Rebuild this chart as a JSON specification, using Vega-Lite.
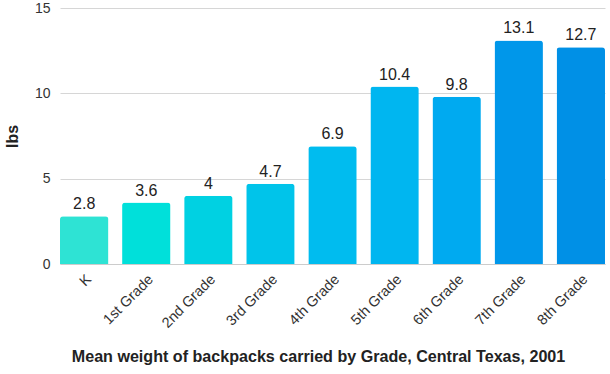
{
  "$schema": "https://vega.github.io/schema/vega-lite/v6.json",
  "width": 610,
  "height": 374,
  "autosize": {"type": "fit", "contains": "padding"},
  "padding": {"left": 4, "right": 4, "top": 1, "bottom": 8},
  "background": "white",
  "title": {"text": "Mean weight of backpacks carried by Grade, Central Texas, 2001", "orient": "bottom", "font": "Liberation Sans", "fontSize": 16.1, "fontWeight": "bold", "color": "#222", "offset": 19, "dx": -14},
  "data": {"values": [
    {"grade": "K", "lbs": 2.8},
    {"grade": "1st Grade", "lbs": 3.6},
    {"grade": "2nd Grade", "lbs": 4},
    {"grade": "3rd Grade", "lbs": 4.7},
    {"grade": "4th Grade", "lbs": 6.9},
    {"grade": "5th Grade", "lbs": 10.4},
    {"grade": "6th Grade", "lbs": 9.8},
    {"grade": "7th Grade", "lbs": 13.1},
    {"grade": "8th Grade", "lbs": 12.7}
  ]},
  "config": {"view": {"stroke": null}, "font": "Liberation Sans"},
  "encoding": {
    "x": {"field": "grade", "type": "nominal", "sort": null,
      "scale": {"paddingInner": 0.22, "paddingOuter": 0.0},
      "axis": {"title": null, "labelAngle": -45, "labelFontSize": 14.5, "labelColor": "#333", "labelFont": "Liberation Sans", "ticks": false, "domainColor": "#ccc", "labelPadding": 8}},
    "y": {"field": "lbs", "type": "quantitative",
      "scale": {"domain": [0, 15]},
      "axis": {"title": "lbs", "titleFontSize": 16, "titleFontWeight": "bold", "titleColor": "#222", "values": [0, 5, 10, 15], "domain": false, "ticks": false, "labelFontSize": 14, "labelColor": "#333", "gridColor": "#d6d6d6", "labelPadding": 10, "titlePadding": 14}}
  },
  "layer": [
    {"mark": {"type": "bar", "cornerRadiusTopLeft": 3, "cornerRadiusTopRight": 3},
     "encoding": {"color": {"field": "grade", "type": "nominal", "sort": null, "legend": null,
       "scale": {"domain": ["K", "1st Grade", "2nd Grade", "3rd Grade", "4th Grade", "5th Grade", "6th Grade", "7th Grade", "8th Grade"],
         "range": ["#2ee3d4", "#00e0da", "#00d1e2", "#00c4ea", "#00bcef", "#00b6f0", "#00aaf0", "#0097ea", "#0090e6"]}}}},
    {"mark": {"type": "text", "dy": -12, "fontSize": 16, "color": "#222", "font": "Liberation Sans"},
     "encoding": {"text": {"field": "lbs", "type": "quantitative"}}}
  ]
}
